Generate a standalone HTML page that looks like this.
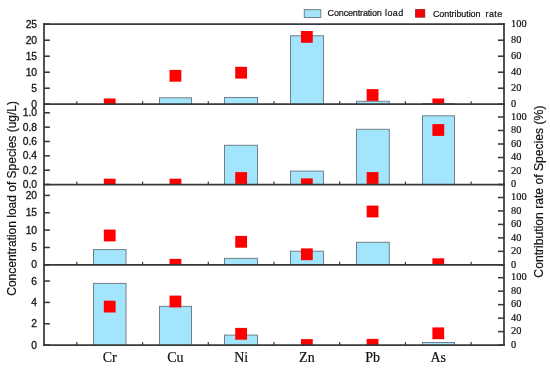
<!DOCTYPE html><html><head><meta charset="utf-8"><style>html,body{margin:0;padding:0;background:#fff;width:550px;height:371px;overflow:hidden}svg{display:block}.s{font-family:"Liberation Sans",Arial,sans-serif}.f{font-family:"Liberation Serif","Times New Roman",serif}.tk{fill:#151515;stroke:#151515;stroke-width:0.3px}.tr{fill:#111;stroke:#111;stroke-width:0.2px}</style></head><body>
<svg width="550" height="371" viewBox="0 0 550 371">
<rect width="550" height="371" fill="#fff"/>
<clipPath id="c0"><rect x="44" y="24.2" width="460" height="80.0"/></clipPath>
<g clip-path="url(#c0)">
<rect x="159.50" y="97.80" width="32.00" height="8.40" fill="#a3e5fc" stroke="#6f8086" stroke-width="1"/>
<rect x="224.50" y="97.50" width="33.00" height="8.70" fill="#a3e5fc" stroke="#6f8086" stroke-width="1"/>
<rect x="290.50" y="35.80" width="33.00" height="70.40" fill="#a3e5fc" stroke="#6f8086" stroke-width="1"/>
<rect x="356.50" y="101.30" width="32.80" height="4.90" fill="#a3e5fc" stroke="#6f8086" stroke-width="1"/>
<rect x="422.50" y="103.50" width="32.00" height="2.70" fill="#a3e5fc" stroke="#6f8086" stroke-width="1"/>
<rect x="103.81" y="98.50" width="11.8" height="11.8" fill="#ff0000"/>
<rect x="169.53" y="69.90" width="11.8" height="11.8" fill="#ff0000"/>
<rect x="235.24" y="66.80" width="11.8" height="11.8" fill="#ff0000"/>
<rect x="300.96" y="31.00" width="11.8" height="11.8" fill="#ff0000"/>
<rect x="366.67" y="89.10" width="11.8" height="11.8" fill="#ff0000"/>
<rect x="432.39" y="98.50" width="11.8" height="11.8" fill="#ff0000"/>
</g>
<clipPath id="c1"><rect x="44" y="104.2" width="460" height="80.3"/></clipPath>
<g clip-path="url(#c1)">
<rect x="224.50" y="145.30" width="33.00" height="41.20" fill="#a3e5fc" stroke="#6f8086" stroke-width="1"/>
<rect x="290.50" y="171.10" width="33.00" height="15.40" fill="#a3e5fc" stroke="#6f8086" stroke-width="1"/>
<rect x="356.50" y="129.30" width="32.80" height="57.20" fill="#a3e5fc" stroke="#6f8086" stroke-width="1"/>
<rect x="422.50" y="115.80" width="32.00" height="70.70" fill="#a3e5fc" stroke="#6f8086" stroke-width="1"/>
<rect x="103.81" y="178.70" width="11.8" height="11.8" fill="#ff0000"/>
<rect x="169.53" y="178.70" width="11.8" height="11.8" fill="#ff0000"/>
<rect x="235.24" y="172.10" width="11.8" height="11.8" fill="#ff0000"/>
<rect x="300.96" y="178.40" width="11.8" height="11.8" fill="#ff0000"/>
<rect x="366.67" y="172.10" width="11.8" height="11.8" fill="#ff0000"/>
<rect x="432.39" y="124.10" width="11.8" height="11.8" fill="#ff0000"/>
</g>
<clipPath id="c2"><rect x="44" y="184.5" width="460" height="80.30000000000001"/></clipPath>
<g clip-path="url(#c2)">
<rect x="93.50" y="249.60" width="32.50" height="17.20" fill="#a3e5fc" stroke="#6f8086" stroke-width="1"/>
<rect x="224.50" y="258.40" width="33.00" height="8.40" fill="#a3e5fc" stroke="#6f8086" stroke-width="1"/>
<rect x="290.50" y="251.20" width="33.00" height="15.60" fill="#a3e5fc" stroke="#6f8086" stroke-width="1"/>
<rect x="356.50" y="242.30" width="32.80" height="24.50" fill="#a3e5fc" stroke="#6f8086" stroke-width="1"/>
<rect x="103.81" y="229.60" width="11.8" height="11.8" fill="#ff0000"/>
<rect x="169.53" y="258.90" width="11.8" height="11.8" fill="#ff0000"/>
<rect x="235.24" y="235.90" width="11.8" height="11.8" fill="#ff0000"/>
<rect x="300.96" y="248.40" width="11.8" height="11.8" fill="#ff0000"/>
<rect x="366.67" y="205.60" width="11.8" height="11.8" fill="#ff0000"/>
<rect x="432.39" y="258.30" width="11.8" height="11.8" fill="#ff0000"/>
</g>
<clipPath id="c3"><rect x="44" y="264.8" width="460" height="80.30000000000001"/></clipPath>
<g clip-path="url(#c3)">
<rect x="93.50" y="283.40" width="32.50" height="63.70" fill="#a3e5fc" stroke="#6f8086" stroke-width="1"/>
<rect x="159.50" y="306.40" width="32.00" height="40.70" fill="#a3e5fc" stroke="#6f8086" stroke-width="1"/>
<rect x="224.50" y="335.10" width="33.00" height="12.00" fill="#a3e5fc" stroke="#6f8086" stroke-width="1"/>
<rect x="422.50" y="342.50" width="32.00" height="4.60" fill="#a3e5fc" stroke="#6f8086" stroke-width="1"/>
<rect x="103.81" y="300.70" width="11.8" height="11.8" fill="#ff0000"/>
<rect x="169.53" y="295.60" width="11.8" height="11.8" fill="#ff0000"/>
<rect x="235.24" y="327.90" width="11.8" height="11.8" fill="#ff0000"/>
<rect x="300.96" y="339.10" width="11.8" height="11.8" fill="#ff0000"/>
<rect x="366.67" y="338.90" width="11.8" height="11.8" fill="#ff0000"/>
<rect x="432.39" y="327.40" width="11.8" height="11.8" fill="#ff0000"/>
</g>
<line x1="44" y1="104.20" x2="49.9" y2="104.20" stroke="#383838" stroke-width="1.55"/>
<text x="37.1" y="107.80" font-size="10.3" text-anchor="end" class="s tk">0</text>
<line x1="44" y1="88.20" x2="49.9" y2="88.20" stroke="#383838" stroke-width="1.55"/>
<text x="37.1" y="91.80" font-size="10.3" text-anchor="end" class="s tk">5</text>
<line x1="44" y1="72.20" x2="49.9" y2="72.20" stroke="#383838" stroke-width="1.55"/>
<text x="37.1" y="75.80" font-size="10.3" text-anchor="end" class="s tk">10</text>
<line x1="44" y1="56.20" x2="49.9" y2="56.20" stroke="#383838" stroke-width="1.55"/>
<text x="37.1" y="59.80" font-size="10.3" text-anchor="end" class="s tk">15</text>
<line x1="44" y1="40.20" x2="49.9" y2="40.20" stroke="#383838" stroke-width="1.55"/>
<text x="37.1" y="43.80" font-size="10.3" text-anchor="end" class="s tk">20</text>
<line x1="44" y1="24.20" x2="49.9" y2="24.20" stroke="#383838" stroke-width="1.55"/>
<text x="37.1" y="27.80" font-size="10.3" text-anchor="end" class="s tk">25</text>
<line x1="498" y1="104.20" x2="504" y2="104.20" stroke="#383838" stroke-width="1.55"/>
<text class="f tr" x="511" y="106.90" font-size="10.4">0</text>
<line x1="498" y1="88.20" x2="504" y2="88.20" stroke="#383838" stroke-width="1.55"/>
<text class="f tr" x="511" y="90.90" font-size="10.4">20</text>
<line x1="498" y1="72.20" x2="504" y2="72.20" stroke="#383838" stroke-width="1.55"/>
<text class="f tr" x="511" y="74.90" font-size="10.4">40</text>
<line x1="498" y1="56.20" x2="504" y2="56.20" stroke="#383838" stroke-width="1.55"/>
<text class="f tr" x="511" y="58.90" font-size="10.4">60</text>
<line x1="498" y1="40.20" x2="504" y2="40.20" stroke="#383838" stroke-width="1.55"/>
<text class="f tr" x="511" y="42.90" font-size="10.4">80</text>
<line x1="498" y1="24.20" x2="504" y2="24.20" stroke="#383838" stroke-width="1.55"/>
<text class="f tr" x="511" y="26.90" font-size="10.4">100</text>
<line x1="76.86" y1="101.20" x2="76.86" y2="104.2" stroke="#383838" stroke-width="1.2"/>
<line x1="142.57" y1="101.20" x2="142.57" y2="104.2" stroke="#383838" stroke-width="1.2"/>
<line x1="208.29" y1="101.20" x2="208.29" y2="104.2" stroke="#383838" stroke-width="1.2"/>
<line x1="274.00" y1="101.20" x2="274.00" y2="104.2" stroke="#383838" stroke-width="1.2"/>
<line x1="339.71" y1="101.20" x2="339.71" y2="104.2" stroke="#383838" stroke-width="1.2"/>
<line x1="405.43" y1="101.20" x2="405.43" y2="104.2" stroke="#383838" stroke-width="1.2"/>
<line x1="471.14" y1="101.20" x2="471.14" y2="104.2" stroke="#383838" stroke-width="1.2"/>
<line x1="43" y1="104.20" x2="505" y2="104.20" stroke="#383838" stroke-width="1.75"/>
<line x1="44" y1="184.50" x2="49.9" y2="184.50" stroke="#383838" stroke-width="1.55"/>
<text x="37.1" y="188.10" font-size="10.3" text-anchor="end" class="s tk">0.0</text>
<line x1="44" y1="170.16" x2="49.9" y2="170.16" stroke="#383838" stroke-width="1.55"/>
<text x="37.1" y="173.76" font-size="10.3" text-anchor="end" class="s tk">0.2</text>
<line x1="44" y1="155.82" x2="49.9" y2="155.82" stroke="#383838" stroke-width="1.55"/>
<text x="37.1" y="159.42" font-size="10.3" text-anchor="end" class="s tk">0.4</text>
<line x1="44" y1="141.48" x2="49.9" y2="141.48" stroke="#383838" stroke-width="1.55"/>
<text x="37.1" y="145.08" font-size="10.3" text-anchor="end" class="s tk">0.6</text>
<line x1="44" y1="127.14" x2="49.9" y2="127.14" stroke="#383838" stroke-width="1.55"/>
<text x="37.1" y="130.74" font-size="10.3" text-anchor="end" class="s tk">0.8</text>
<line x1="44" y1="112.80" x2="49.9" y2="112.80" stroke="#383838" stroke-width="1.55"/>
<text x="37.1" y="116.40" font-size="10.3" text-anchor="end" class="s tk">1.0</text>
<line x1="498" y1="184.50" x2="504" y2="184.50" stroke="#383838" stroke-width="1.55"/>
<text class="f tr" x="511" y="187.20" font-size="10.4">0</text>
<line x1="498" y1="171.00" x2="504" y2="171.00" stroke="#383838" stroke-width="1.55"/>
<text class="f tr" x="511" y="173.70" font-size="10.4">20</text>
<line x1="498" y1="157.50" x2="504" y2="157.50" stroke="#383838" stroke-width="1.55"/>
<text class="f tr" x="511" y="160.20" font-size="10.4">40</text>
<line x1="498" y1="144.00" x2="504" y2="144.00" stroke="#383838" stroke-width="1.55"/>
<text class="f tr" x="511" y="146.70" font-size="10.4">60</text>
<line x1="498" y1="130.50" x2="504" y2="130.50" stroke="#383838" stroke-width="1.55"/>
<text class="f tr" x="511" y="133.20" font-size="10.4">80</text>
<line x1="498" y1="117.00" x2="504" y2="117.00" stroke="#383838" stroke-width="1.55"/>
<text class="f tr" x="511" y="119.70" font-size="10.4">100</text>
<line x1="76.86" y1="181.50" x2="76.86" y2="184.5" stroke="#383838" stroke-width="1.2"/>
<line x1="142.57" y1="181.50" x2="142.57" y2="184.5" stroke="#383838" stroke-width="1.2"/>
<line x1="208.29" y1="181.50" x2="208.29" y2="184.5" stroke="#383838" stroke-width="1.2"/>
<line x1="274.00" y1="181.50" x2="274.00" y2="184.5" stroke="#383838" stroke-width="1.2"/>
<line x1="339.71" y1="181.50" x2="339.71" y2="184.5" stroke="#383838" stroke-width="1.2"/>
<line x1="405.43" y1="181.50" x2="405.43" y2="184.5" stroke="#383838" stroke-width="1.2"/>
<line x1="471.14" y1="181.50" x2="471.14" y2="184.5" stroke="#383838" stroke-width="1.2"/>
<line x1="43" y1="184.50" x2="505" y2="184.50" stroke="#383838" stroke-width="1.75"/>
<line x1="44" y1="264.80" x2="49.9" y2="264.80" stroke="#383838" stroke-width="1.55"/>
<text x="37.1" y="268.40" font-size="10.3" text-anchor="end" class="s tk">0</text>
<line x1="44" y1="247.45" x2="49.9" y2="247.45" stroke="#383838" stroke-width="1.55"/>
<text x="37.1" y="251.05" font-size="10.3" text-anchor="end" class="s tk">5</text>
<line x1="44" y1="230.10" x2="49.9" y2="230.10" stroke="#383838" stroke-width="1.55"/>
<text x="37.1" y="233.70" font-size="10.3" text-anchor="end" class="s tk">10</text>
<line x1="44" y1="212.75" x2="49.9" y2="212.75" stroke="#383838" stroke-width="1.55"/>
<text x="37.1" y="216.35" font-size="10.3" text-anchor="end" class="s tk">15</text>
<line x1="44" y1="195.40" x2="49.9" y2="195.40" stroke="#383838" stroke-width="1.55"/>
<text x="37.1" y="199.00" font-size="10.3" text-anchor="end" class="s tk">20</text>
<line x1="498" y1="264.80" x2="504" y2="264.80" stroke="#383838" stroke-width="1.55"/>
<text class="f tr" x="511" y="267.50" font-size="10.4">0</text>
<line x1="498" y1="251.34" x2="504" y2="251.34" stroke="#383838" stroke-width="1.55"/>
<text class="f tr" x="511" y="254.04" font-size="10.4">20</text>
<line x1="498" y1="237.88" x2="504" y2="237.88" stroke="#383838" stroke-width="1.55"/>
<text class="f tr" x="511" y="240.58" font-size="10.4">40</text>
<line x1="498" y1="224.42" x2="504" y2="224.42" stroke="#383838" stroke-width="1.55"/>
<text class="f tr" x="511" y="227.12" font-size="10.4">60</text>
<line x1="498" y1="210.96" x2="504" y2="210.96" stroke="#383838" stroke-width="1.55"/>
<text class="f tr" x="511" y="213.66" font-size="10.4">80</text>
<line x1="498" y1="197.50" x2="504" y2="197.50" stroke="#383838" stroke-width="1.55"/>
<text class="f tr" x="511" y="200.20" font-size="10.4">100</text>
<line x1="76.86" y1="261.80" x2="76.86" y2="264.8" stroke="#383838" stroke-width="1.2"/>
<line x1="142.57" y1="261.80" x2="142.57" y2="264.8" stroke="#383838" stroke-width="1.2"/>
<line x1="208.29" y1="261.80" x2="208.29" y2="264.8" stroke="#383838" stroke-width="1.2"/>
<line x1="274.00" y1="261.80" x2="274.00" y2="264.8" stroke="#383838" stroke-width="1.2"/>
<line x1="339.71" y1="261.80" x2="339.71" y2="264.8" stroke="#383838" stroke-width="1.2"/>
<line x1="405.43" y1="261.80" x2="405.43" y2="264.8" stroke="#383838" stroke-width="1.2"/>
<line x1="471.14" y1="261.80" x2="471.14" y2="264.8" stroke="#383838" stroke-width="1.2"/>
<line x1="43" y1="264.80" x2="505" y2="264.80" stroke="#383838" stroke-width="1.75"/>
<line x1="44" y1="345.10" x2="49.9" y2="345.10" stroke="#383838" stroke-width="1.55"/>
<text x="37.1" y="348.70" font-size="10.3" text-anchor="end" class="s tk">0</text>
<line x1="44" y1="323.75" x2="49.9" y2="323.75" stroke="#383838" stroke-width="1.55"/>
<text x="37.1" y="327.35" font-size="10.3" text-anchor="end" class="s tk">2</text>
<line x1="44" y1="302.40" x2="49.9" y2="302.40" stroke="#383838" stroke-width="1.55"/>
<text x="37.1" y="306.00" font-size="10.3" text-anchor="end" class="s tk">4</text>
<line x1="44" y1="281.05" x2="49.9" y2="281.05" stroke="#383838" stroke-width="1.55"/>
<text x="37.1" y="284.65" font-size="10.3" text-anchor="end" class="s tk">6</text>
<line x1="498" y1="345.10" x2="504" y2="345.10" stroke="#383838" stroke-width="1.55"/>
<text class="f tr" x="511" y="347.80" font-size="10.4">0</text>
<line x1="498" y1="331.62" x2="504" y2="331.62" stroke="#383838" stroke-width="1.55"/>
<text class="f tr" x="511" y="334.32" font-size="10.4">20</text>
<line x1="498" y1="318.14" x2="504" y2="318.14" stroke="#383838" stroke-width="1.55"/>
<text class="f tr" x="511" y="320.84" font-size="10.4">40</text>
<line x1="498" y1="304.66" x2="504" y2="304.66" stroke="#383838" stroke-width="1.55"/>
<text class="f tr" x="511" y="307.36" font-size="10.4">60</text>
<line x1="498" y1="291.18" x2="504" y2="291.18" stroke="#383838" stroke-width="1.55"/>
<text class="f tr" x="511" y="293.88" font-size="10.4">80</text>
<line x1="498" y1="277.70" x2="504" y2="277.70" stroke="#383838" stroke-width="1.55"/>
<text class="f tr" x="511" y="280.40" font-size="10.4">100</text>
<line x1="76.86" y1="342.10" x2="76.86" y2="345.1" stroke="#383838" stroke-width="1.2"/>
<line x1="142.57" y1="342.10" x2="142.57" y2="345.1" stroke="#383838" stroke-width="1.2"/>
<line x1="208.29" y1="342.10" x2="208.29" y2="345.1" stroke="#383838" stroke-width="1.2"/>
<line x1="274.00" y1="342.10" x2="274.00" y2="345.1" stroke="#383838" stroke-width="1.2"/>
<line x1="339.71" y1="342.10" x2="339.71" y2="345.1" stroke="#383838" stroke-width="1.2"/>
<line x1="405.43" y1="342.10" x2="405.43" y2="345.1" stroke="#383838" stroke-width="1.2"/>
<line x1="471.14" y1="342.10" x2="471.14" y2="345.1" stroke="#383838" stroke-width="1.2"/>
<line x1="43" y1="345.10" x2="505" y2="345.10" stroke="#383838" stroke-width="1.75"/>
<line x1="43" y1="24.20" x2="505" y2="24.20" stroke="#383838" stroke-width="1.75"/>
<line x1="44" y1="23.30" x2="44" y2="346.00" stroke="#383838" stroke-width="1.75"/>
<line x1="504" y1="23.30" x2="504" y2="346.00" stroke="#383838" stroke-width="1.75"/>
<text class="f" x="109.71" y="362" font-size="14" text-anchor="middle" fill="#111" stroke="#111" stroke-width="0.2">Cr</text>
<text class="f" x="175.43" y="362" font-size="14" text-anchor="middle" fill="#111" stroke="#111" stroke-width="0.2">Cu</text>
<text class="f" x="241.14" y="362" font-size="14" text-anchor="middle" fill="#111" stroke="#111" stroke-width="0.2">Ni</text>
<text class="f" x="306.86" y="362" font-size="14" text-anchor="middle" fill="#111" stroke="#111" stroke-width="0.2">Zn</text>
<text class="f" x="372.57" y="362" font-size="14" text-anchor="middle" fill="#111" stroke="#111" stroke-width="0.2">Pb</text>
<text class="f" x="438.29" y="362" font-size="14" text-anchor="middle" fill="#111" stroke="#111" stroke-width="0.2">As</text>
<text class="s" transform="translate(16.3,198.4) rotate(-90)" font-size="12" text-anchor="middle" fill="#111" stroke="#111" stroke-width="0.2">Concentration load of Species (ug/L)</text>
<text class="s" transform="translate(543,191.6) rotate(-90)" font-size="12.15" text-anchor="middle" fill="#111" stroke="#111" stroke-width="0.2">Contribution rate of Species (%)</text>
<rect x="304.3" y="9.7" width="16.5" height="7.8" fill="#a3e5fc" stroke="#6f8086" stroke-width="1"/>
<text class="s" y="15.8" font-size="9" letter-spacing="-0.15" fill="#111" stroke="#111" stroke-width="0.2"><tspan x="327.6">Concentration</tspan> <tspan x="385" letter-spacing="0.4">load</tspan></text>
<rect x="415.6" y="9.6" width="9.2" height="7.6" fill="#ff0000" stroke="#8a1a1a" stroke-width="0.8"/>
<text class="s" y="16.9" font-size="9" letter-spacing="-0.15" fill="#111" stroke="#111" stroke-width="0.2"><tspan x="432.9" letter-spacing="-0.08">Contribution</tspan>  <tspan x="485.6" letter-spacing="0.35">rate</tspan></text>
</svg></body></html>
